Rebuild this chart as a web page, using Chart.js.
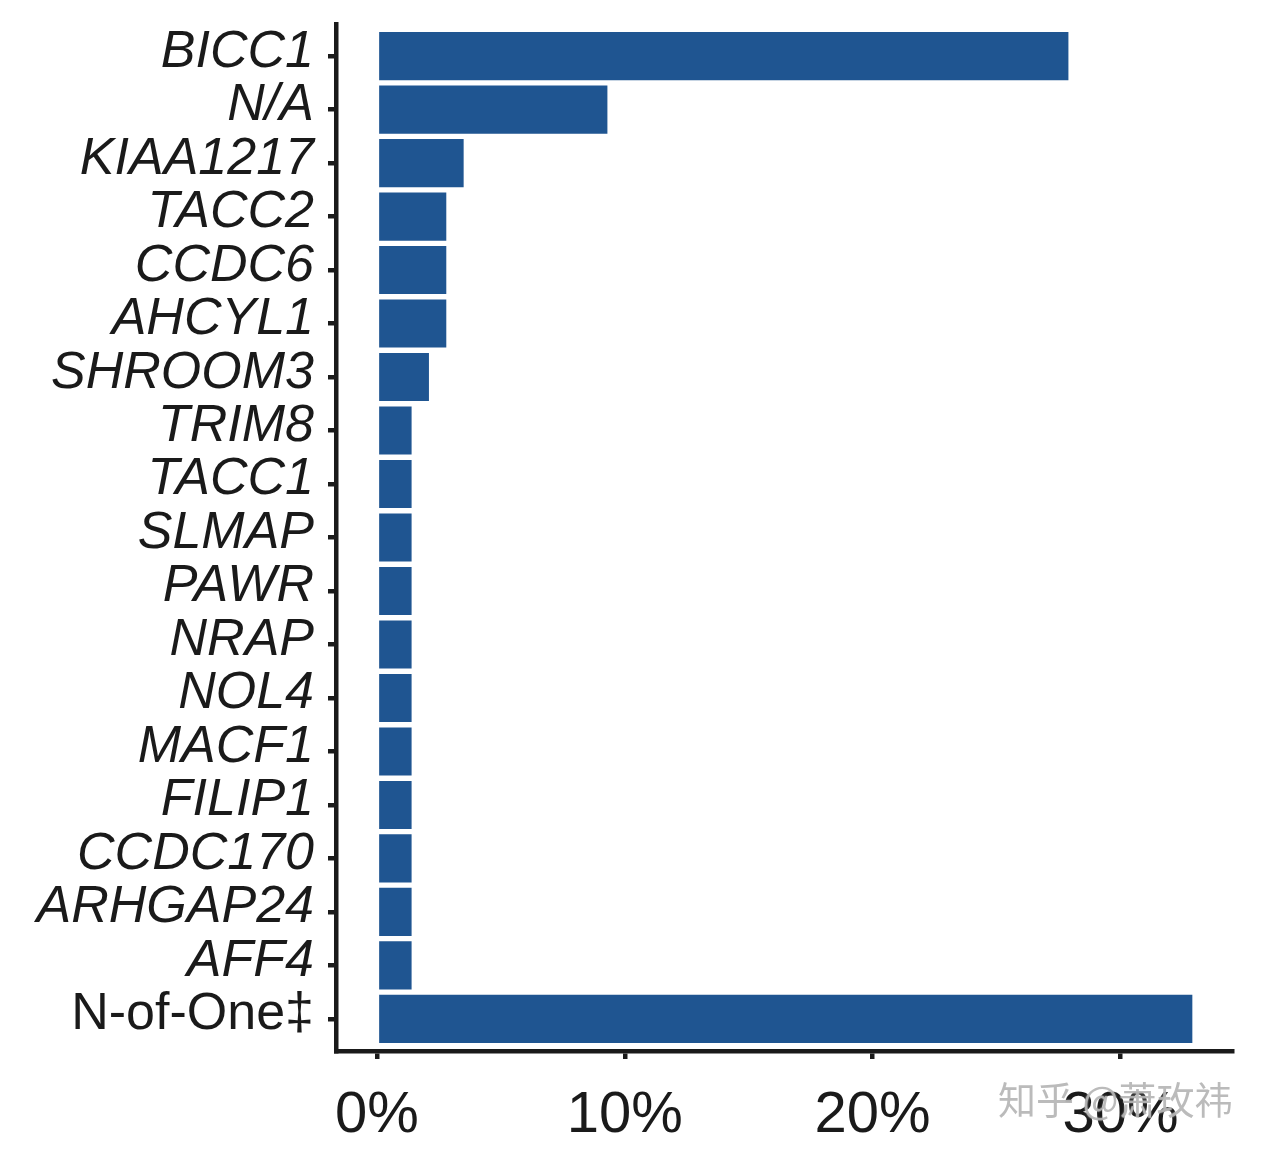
<!DOCTYPE html>
<html>
<head>
<meta charset="utf-8">
<script src="https://cdn.jsdelivr.net/npm/chart.js@4.4.1/dist/chart.umd.min.js"></script>
<style>
  html, body { margin: 0; padding: 0; background: #fff; }
  #wrap { width: 1266px; height: 1152px; position: relative; }
</style>
</head>
<body>
<div id="wrap"><canvas id="fusionChart"></canvas></div>
<script>
// --- data ---
const genes = [
    'BICC1', 'N/A', 'KIAA1217', 'TACC2', 'CCDC6', 'AHCYL1', 'SHROOM3',
    'TRIM8', 'TACC1', 'SLMAP', 'PAWR', 'NRAP', 'NOL4', 'MACF1',
    'FILIP1', 'CCDC170', 'ARHGAP24', 'AFF4', 'N-of-One\u2021'
];
const pctValues = [
    27.9, 9.3, 3.5, 2.8, 2.8, 2.8, 2.1,
    1.4, 1.4, 1.4, 1.4, 1.4, 1.4, 1.4,
    1.4, 1.4, 1.4, 1.4, 32.9
];
const xTickValues = [0, 10, 20, 30];
const uprightLabel = 'N-of-One\u2021'; // only label not in italics

const INK = '#1a1a1a';
const BAR = '#1f5591';
const FONT = "'Liberation Sans', Arial, Helvetica, sans-serif";
const AXIS_W = 4.5;

// watermark in the bottom corner
const watermark = {
    id: 'watermark',
    afterDraw(chart) {
        const c = chart.ctx;
        c.save();
        c.font = "38px 'Noto Sans CJK SC', sans-serif";
        c.textBaseline = 'middle';
        c.textAlign = 'left';
        c.shadowColor = 'rgba(255,255,255,0.9)';
        c.shadowBlur = 2;
        c.fillStyle = 'rgba(175,175,175,0.85)';
        c.fillText('知乎 @萧玫祎', 998, 1100);
        c.restore();
    }
};

const ctx = document.getElementById('fusionChart').getContext('2d');
new Chart(ctx, {
    type: 'bar',
    data: {
        datasets: [{
            data: pctValues.map((v, i) => ({ x: v, y: i })),
            backgroundColor: BAR,
            borderWidth: 0,
            categoryPercentage: 1,
            barPercentage: 0.9
        }]
    },
    options: {
        indexAxis: 'y',
        responsive: true,
        maintainAspectRatio: false,
        animation: false,
        layout: { padding: { top: 24, right: 34, bottom: 0, left: 0 } },
        plugins: {
            legend: { display: false },
            tooltip: { enabled: false }
        },
        scales: {
            x: {
                type: 'linear',
                min: -1.65,
                max: 34.5,
                afterBuildTicks: (s) => { s.ticks = xTickValues.map(v => ({ value: v })); },
                afterFit: (s) => { s.height = 101; s.paddingLeft = 0; s.paddingRight = 0; },
                border: { display: true, color: INK, width: AXIS_W },
                grid: {
                    drawOnChartArea: false,
                    color: INK,
                    lineWidth: AXIS_W,
                    tickLength: 8
                },
                ticks: {
                    color: INK,
                    padding: 22,
                    maxRotation: 0,
                    font: { family: FONT, size: 58 },
                    callback: (v) => v + '%'
                }
            },
            y: {
                type: 'linear',
                reverse: true,
                offset: false,
                min: -0.6,
                max: 18.6,
                afterBuildTicks: (s) => { s.ticks = genes.map((g, i) => ({ value: i })); },
                afterFit: (s) => { s.width = 336; s.paddingTop = 0; s.paddingBottom = 0; },
                border: { display: true, color: INK, width: AXIS_W },
                grid: {
                    offset: false,
                    drawOnChartArea: false,
                    color: INK,
                    lineWidth: AXIS_W,
                    tickLength: 8
                },
                ticks: {
                    color: INK,
                    padding: 14,
                    labelOffset: -4,
                    autoSkip: false,
                    font: (c) => ({
                        family: FONT,
                        size: 52,
                        style: genes[c.tick ? c.tick.value : 0] === uprightLabel ? 'normal' : 'italic'
                    }),
                    callback: (v) => genes[v]
                }
            }
        }
    },
    plugins: [watermark]
});
</script>
</body>
</html>
